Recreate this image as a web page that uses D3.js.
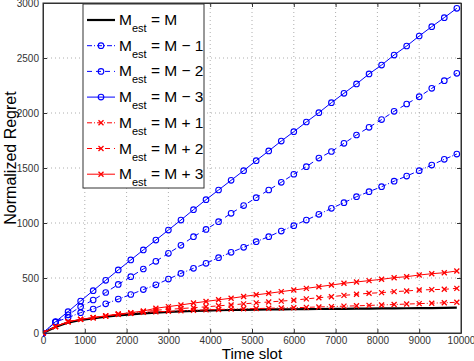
<!DOCTYPE html>
<html><head><meta charset="utf-8">
<script src="https://cdn.jsdelivr.net/npm/d3@7"></script>
<style>body{margin:0;background:#fff;overflow:hidden}text{font-family:Helvetica,Arial,"Liberation Sans",sans-serif}</style>
</head><body><svg id="c" width="474" height="361"></svg>
<script>
const timeSlots = [0,300,600,900,1200,1500,1800,2100,2400,2700,3000,3300,3600,3900,4200,4500,4800,5100,5400,5700,6000,6300,6600,6900,7200,7500,7800,8100,8400,8700,9000,9300,9600,9900];
const regretExact = [0,55,95,118,133,148,160,170,178,185,191,196,200,204,207,209,211,213,214,215,216,217,218,219,220,221,222,223,224,225,226,227,228,230];
const regretMinus1 = [0,100,140,185,218,265,308,350,395,438,490,542,588,633,685,733,779,830,876,927,976,1027,1079,1133,1185,1239,1285,1330,1380,1427,1476,1527,1579,1627];
const regretMinus2 = [0,100,165,239,300,368,442,512,582,652,724,797,876,942,1012,1088,1158,1230,1300,1370,1443,1512,1590,1650,1724,1800,1870,1940,2015,2082,2148,2224,2294,2361];
const regretMinus3 = [0,103,194,291,385,479,573,664,755,845,936,1027,1121,1212,1300,1388,1476,1567,1655,1745,1830,1918,2003,2094,2179,2264,2355,2436,2527,2609,2700,2785,2867,2952];
const regretPlus1 = [0,58,103,124,139,155,170,179,188,192,197,202,206,210,214,217,220,222,225,228,230,233,237,240,244,247,251,255,259,263,267,271,275,279];
const regretPlus2 = [0,58,103,124,139,155,170,179,194,207,215,222,230,238,247,255,265,274,282,290,298,310,321,330,342,352,361,367,376,382,391,394,397,406];
const regretPlus3 = [0,58,103,124,140,156,172,185,200,225,240,255,272,287,302,316,332,347,361,376,391,406,421,436,452,464,476,488,503,512,527,539,548,564];
const xTicks = [0,1000,2000,3000,4000,5000,6000,7000,8000,9000,10000];
const yTicks = [0,500,1000,1500,2000,2500,3000];
const legendSuffixes = [" = M"," = M \u2212 1"," = M \u2212 2"," = M \u2212 3"," = M + 1"," = M + 2"," = M + 3"];

const series = [
  {v: regretExact,  color:"#000000", dash:null,        marker:null, width:2.2},
  {v: regretMinus1, color:"#0000ff", dash:"5,2,1,2",   marker:"o",  width:1},
  {v: regretMinus2, color:"#0000ff", dash:"5,4",       marker:"o",  width:1},
  {v: regretMinus3, color:"#0000ff", dash:null,        marker:"o",  width:1},
  {v: regretPlus1,  color:"#ff0000", dash:"5,2,1,2",   marker:"x",  width:1},
  {v: regretPlus2,  color:"#ff0000", dash:"5,4",       marker:"x",  width:1},
  {v: regretPlus3,  color:"#ff0000", dash:null,        marker:"x",  width:1}
];

const W=474,H=361, m={l:43,r:13,t:3,b:28};
const svg=d3.select("#c");
const x=d3.scaleLinear().domain([0,10000]).range([m.l,W-m.r]);
const y=d3.scaleLinear().domain([0,3000]).range([H-m.b,m.t]);

svg.append("rect").attr("x",m.l).attr("y",m.t).attr("width",W-m.l-m.r).attr("height",H-m.t-m.b).attr("fill","#fff");

// grid
const g=svg.append("g");
g.selectAll(".gx").data(xTicks.slice(1,-1)).join("line")
  .attr("x1",d=>x(d)).attr("x2",d=>x(d)).attr("y1",y(0)).attr("y2",y(3000))
  .attr("stroke","#999").attr("stroke-dasharray","1,3").attr("stroke-width",0.8);
g.selectAll(".gy").data(yTicks.slice(1,-1)).join("line")
  .attr("y1",d=>y(d)).attr("y2",d=>y(d)).attr("x1",x(0)).attr("x2",x(10000))
  .attr("stroke","#999").attr("stroke-dasharray","1,3").attr("stroke-width",0.8);

// axes
const tickLen=-4;
const ax=svg.append("g").attr("transform",`translate(0,${y(0)})`)
  .call(d3.axisBottom(x).tickValues(xTicks).tickFormat(d3.format("d")).tickSizeInner(tickLen).tickSizeOuter(0).tickPadding(4));
const axT=svg.append("g").attr("transform",`translate(0,${y(3000)})`)
  .call(d3.axisTop(x).tickValues(xTicks).tickFormat("").tickSizeInner(tickLen).tickSizeOuter(0));
const ay=svg.append("g").attr("transform",`translate(${x(0)},0)`)
  .call(d3.axisLeft(y).tickValues(yTicks).tickFormat(d3.format("d")).tickSizeInner(tickLen).tickSizeOuter(0).tickPadding(4));
const ayR=svg.append("g").attr("transform",`translate(${x(10000)},0)`)
  .call(d3.axisRight(y).tickValues(yTicks).tickFormat("").tickSizeInner(tickLen).tickSizeOuter(0));
[ax,axT,ay,ayR].forEach(a=>{
  a.select(".domain").attr("stroke","#333");
  a.selectAll(".tick line").attr("stroke","#333");
  a.selectAll("text").attr("font-size",10).attr("fill","#333").attr("font-family","Helvetica,Arial,'Liberation Sans',sans-serif");
});

// clip
svg.append("clipPath").attr("id","clip").append("rect")
  .attr("x",m.l).attr("y",m.t-4).attr("width",W-m.l-m.r+4).attr("height",H-m.t-m.b+8);
const plot=svg.append("g").attr("clip-path","url(#clip)");

const line=d3.line().x((d,i)=>x(timeSlots[i])).y(d=>y(d));
function drawMarker(sel,type,color,px,py){
  if(type==="o"){
    sel.append("circle").attr("cx",px).attr("cy",py).attr("r",2.8).attr("fill","none").attr("stroke",color).attr("stroke-width",1.1);
  } else if(type==="x"){
    const s=2.5;
    sel.append("path").attr("d",`M${px-s},${py-s}L${px+s},${py+s}M${px-s},${py+s}L${px+s},${py-s}`)
      .attr("stroke",color).attr("stroke-width",1.3).attr("fill","none");
  }
}
series.forEach(s=>{
  plot.append("path").datum(s.v).attr("d",line).attr("fill","none")
    .attr("stroke",s.color).attr("stroke-width",s.width)
    .attr("stroke-dasharray",s.dash);
  if(s.marker){
    const mg=plot.append("g");
    s.v.forEach((d,i)=>drawMarker(mg,s.marker,s.color,x(timeSlots[i]),y(d)));
  }
});

// frame
svg.append("rect").attr("x",m.l).attr("y",m.t).attr("width",W-m.l-m.r).attr("height",H-m.t-m.b)
  .attr("fill","none").attr("stroke","#333").attr("stroke-width",1);

// legend
const lg=svg.append("g");
const lx=83, ly=4, lw=121, lh=184;
lg.append("rect").attr("x",lx).attr("y",ly).attr("width",lw).attr("height",lh).attr("fill","#fff").attr("stroke","#333").attr("stroke-width",1);
series.forEach((s,k)=>{
  const cy=ly+16+k*25.7;
  lg.append("line").attr("x1",lx+4).attr("x2",lx+32).attr("y1",cy).attr("y2",cy)
    .attr("stroke",s.color).attr("stroke-width",s.width).attr("stroke-dasharray",s.dash);
  if(s.marker) drawMarker(lg,s.marker,s.color,lx+18,cy);
  const t=lg.append("text").attr("x",lx+36).attr("y",cy+5).attr("font-size",15.5).attr("fill","#000");
  t.append("tspan").text("M");
  t.append("tspan").attr("font-size",11).attr("dy",7).text("est");
  t.append("tspan").attr("dy",-7).text(legendSuffixes[k]);
});

// labels
svg.append("text").attr("x",(x(0)+x(10000))/2).attr("y",359).attr("text-anchor","middle").attr("font-size",15).text("Time slot");
svg.append("text").attr("transform",`translate(16,158) rotate(-90)`).attr("text-anchor","middle").attr("font-size",16).text("Normalized Regret");
</script></body></html>
